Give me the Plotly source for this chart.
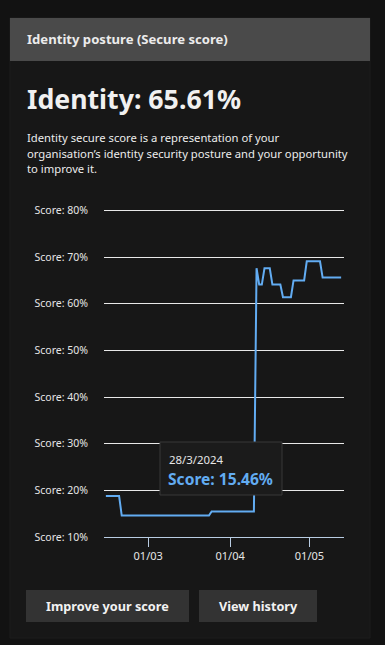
import plotly.graph_objects as go

# ---- data ----
dates = ["2024-02-14", "2024-02-19", "2024-02-20", "2024-03-24", "2024-03-25",
         "2024-04-10", "2024-04-11", "2024-04-12", "2024-04-13", "2024-04-14",
         "2024-04-16", "2024-04-17", "2024-04-20", "2024-04-21", "2024-04-24",
         "2024-04-25", "2024-04-29", "2024-04-30", "2024-05-05", "2024-05-06",
         "2024-05-13"]
scores = [18.8, 18.8, 14.6, 14.6, 15.46,
          15.46, 67.6, 64.1, 64.1, 67.6,
          67.6, 64.1, 64.1, 61.4, 61.4,
          65.0, 65.0, 69.1, 69.1, 65.61,
          65.61]
x_tick_vals = ["2024-03-01", "2024-04-01", "2024-05-01"]
x_tick_text = ["01/03", "01/04", "01/05"]
y_tick_vals = [10, 20, 30, 40, 50, 60, 70, 80]
y_tick_text = ["Score: %d%%" % v for v in y_tick_vals]

title_text = "Identity posture (Secure score)"
headline = "Identity: 65.61%"
desc_lines = ["Identity secure score is a representation of your",
              "organisation\u2019s identity security posture and your opportunity",
              "to improve it."]
tip_date = "28/3/2024"
tip_value = "Score: 15.46%"
buttons = ["Improve your score", "View history"]

# ---- layout geometry ----
W, H = 385, 645
L, R, T, B = 104, 41, 209, 108
PW, PH = W - L - R, H - T - B
FONT = "Noto Sans"


def px(x):
    return (x - L) / PW


def py(y):
    return (H - B - y) / PH


fig = go.Figure()
fig.add_trace(go.Scatter(x=dates, y=scores, mode="lines",
                         line=dict(color="#62acf2", width=2),
                         hoverinfo="skip", showlegend=False))

shapes = [
    # card
    dict(type="rect", xref="paper", yref="paper", x0=px(10), x1=px(370), y0=py(638), y1=py(18),
         fillcolor="#171717", line=dict(color="#1c1c1c", width=1), layer="below"),
    # header
    dict(type="rect", xref="paper", yref="paper", x0=px(10), x1=px(370), y0=py(61), y1=py(18),
         fillcolor="#4a4a4a", line=dict(width=0), layer="below"),
    # buttons
    dict(type="rect", xref="paper", yref="paper", x0=px(26), x1=px(189), y0=py(622), y1=py(590),
         fillcolor="#333333", line=dict(width=0), layer="below"),
    dict(type="rect", xref="paper", yref="paper", x0=px(199), x1=px(317), y0=py(622), y1=py(590),
         fillcolor="#333333", line=dict(width=0), layer="below"),
    # tooltip box
    dict(type="rect", xref="paper", yref="paper", x0=px(160), x1=px(282), y0=py(495), y1=py(442),
         fillcolor="#1b1b1b", line=dict(color="#383838", width=1), layer="above"),
]

annotations = [
    dict(text="<b>" + title_text + "</b>", x=px(25), y=py(39.5), xref="paper", yref="paper",
         xanchor="left", yanchor="middle", showarrow=False,
         font=dict(family=FONT, size=13.1, color="#ececec")),
    dict(text="<b>" + headline + "</b>", x=px(25), y=py(98), xref="paper", yref="paper",
         xanchor="left", yanchor="middle", showarrow=False,
         font=dict(family=FONT, size=26.7, color="#f0f0f0")),
    dict(text="<b>" + buttons[0] + "</b>", x=px(107.5), y=py(606), xref="paper", yref="paper",
         xanchor="center", yanchor="middle", showarrow=False,
         font=dict(family=FONT, size=12.7, color="#f2f2f2")),
    dict(text="<b>" + buttons[1] + "</b>", x=px(258), y=py(606), xref="paper", yref="paper",
         xanchor="center", yanchor="middle", showarrow=False,
         font=dict(family=FONT, size=12.7, color="#f2f2f2")),
    dict(text=tip_date, x=px(167), y=py(459), xref="paper", yref="paper",
         xanchor="left", yanchor="middle", showarrow=False,
         font=dict(family=FONT, size=11.4, color="#e6e6e6")),
    dict(text="<b>" + tip_value + "</b>", x=px(166), y=py(478.5), xref="paper", yref="paper",
         xanchor="left", yanchor="middle", showarrow=False,
         font=dict(family=FONT, size=15.6, color="#62acf2")),
]
for i, line in enumerate(desc_lines):
    annotations.append(dict(text=line, x=px(25), y=py(137 + 16 * i), xref="paper", yref="paper",
                            xanchor="left", yanchor="middle", showarrow=False,
                            font=dict(family=FONT, size=11.25, color="#ececec")))

fig.update_layout(
    width=W, height=H,
    margin=dict(l=L, r=R, t=T, b=B),
    paper_bgcolor="#121212", plot_bgcolor="rgba(0,0,0,0)",
    font=dict(family=FONT, color="#e6e6e6"),
    shapes=shapes, annotations=annotations,
    hovermode=False,
)
fig.update_xaxes(range=["2024-02-13 07:00", "2024-05-14 02:00"],
                 tickvals=x_tick_vals, ticktext=x_tick_text,
                 showgrid=False, zeroline=False,
                 showline=True, linecolor="#b9cde3", linewidth=1,
                 ticks="outside", ticklen=9, tickcolor="#b9cde3", tickwidth=1,
                 tickfont=dict(family=FONT, size=11, color="#e6e6e6"))
fig.update_yaxes(range=[10, 80.3], tickvals=y_tick_vals, ticktext=y_tick_text,
                 showgrid=True, gridcolor="#e8e8e8", gridwidth=1,
                 zeroline=False, showline=False, ticks="",
                 ticklabelstandoff=15,
                 tickfont=dict(family=FONT, size=10.5, color="#e6e6e6"))

fig.write_html("out.html", config={"displayModeBar": False},
               post_script="document.body.style.margin='0px';document.body.style.background='#121212';")
